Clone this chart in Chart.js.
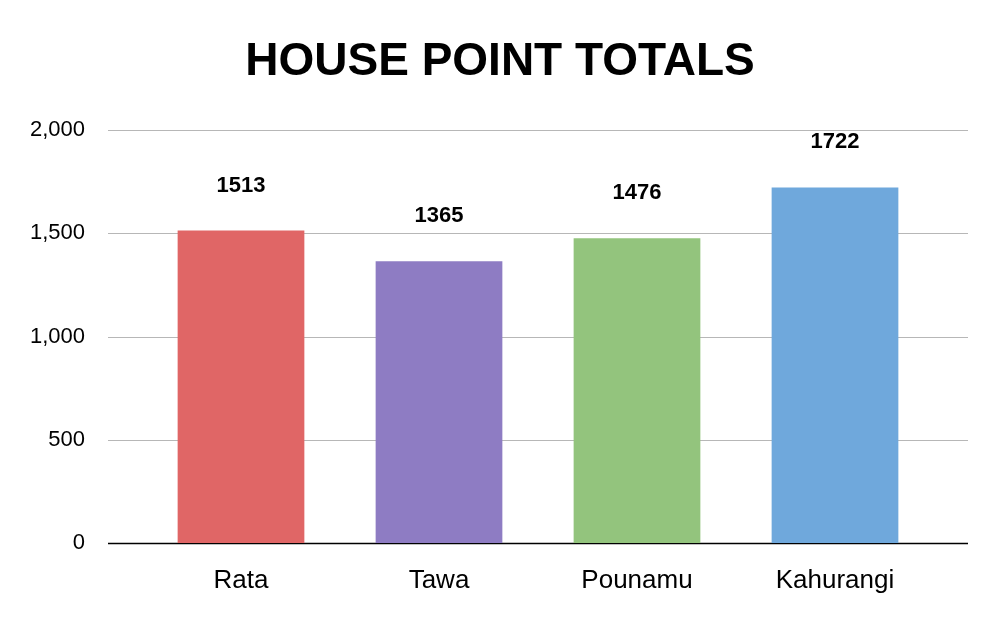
<!DOCTYPE html>
<html>
<head>
<meta charset="utf-8">
<script src="https://cdn.jsdelivr.net/npm/chart.js@4"></script>
<style>
  html, body { margin: 0; padding: 0; background: #fff; }
  #wrap { width: 1000px; height: 635px; }
</style>
</head>
<body>
<div id="wrap"><canvas id="chart"></canvas></div>
<script>
// House point data
const houses = ['Rata', 'Tawa', 'Pounamu', 'Kahurangi'];
const points = [1513, 1365, 1476, 1722];
const barColors = ['#e06666', '#8e7cc3', '#93c47d', '#6fa8dc'];
const FONT = '"Liberation Sans", Arial, sans-serif';

// title, wide gridlines and value labels drawn by hand
const decorPlugin = {
    id: 'decor',
    beforeDatasetsDraw(chart) {
        const ctx = chart.ctx;
        const y = chart.scales.y;
        ctx.save();
        ctx.lineWidth = 1;
        y.ticks.forEach(t => {
            const py = Math.round(y.getPixelForValue(t.value)) + 0.5;
            ctx.strokeStyle = t.value === 0 ? '#000' : '#b7b7b7';
            ctx.lineWidth = t.value === 0 ? 1.5 : 1;
            ctx.beginPath();
            ctx.moveTo(108, py);
            ctx.lineTo(968, py);
            ctx.stroke();
        });
        ctx.restore();
    },
    afterDatasetsDraw(chart) {
        const ctx = chart.ctx;
        ctx.save();
        ctx.fillStyle = '#000';
        ctx.textAlign = 'center';
        ctx.textBaseline = 'middle';
        ctx.font = 'bold 46px ' + FONT;
        ctx.fillText('HOUSE POINT TOTALS', 500, 62);
        ctx.font = 'bold 22px ' + FONT;
        chart.getDatasetMeta(0).data.forEach((bar, i) => {
            ctx.fillText(String(points[i]), bar.x, bar.y - 45);
        });
        ctx.restore();
    }
};

new Chart(document.getElementById('chart'), {
    type: 'bar',
    data: {
        labels: houses,
        datasets: [{
            data: points,
            backgroundColor: barColors,
            borderWidth: 0,
            barPercentage: 1,
            categoryPercentage: 0.64
        }]
    },
    options: {
        responsive: true,
        maintainAspectRatio: false,
        animation: false,
        layout: { padding: { top: 130, right: 66, left: 0, bottom: 0 } },
        plugins: { legend: { display: false }, tooltip: { enabled: false } },
        scales: {
            x: {
                grid: { display: false },
                border: { display: false },
                ticks: { color: '#000', font: { family: FONT, size: 26 }, padding: 14 },
                afterFit(s) { s.height = 92; }
            },
            y: {
                min: 0,
                max: 2000,
                grid: { display: false },
                border: { display: false },
                ticks: { stepSize: 500, color: '#000', font: { family: FONT, size: 22 }, padding: 49 },
                afterFit(s) { s.width = 142; }
            }
        }
    },
    plugins: [decorPlugin]
});
</script>
</body>
</html>
